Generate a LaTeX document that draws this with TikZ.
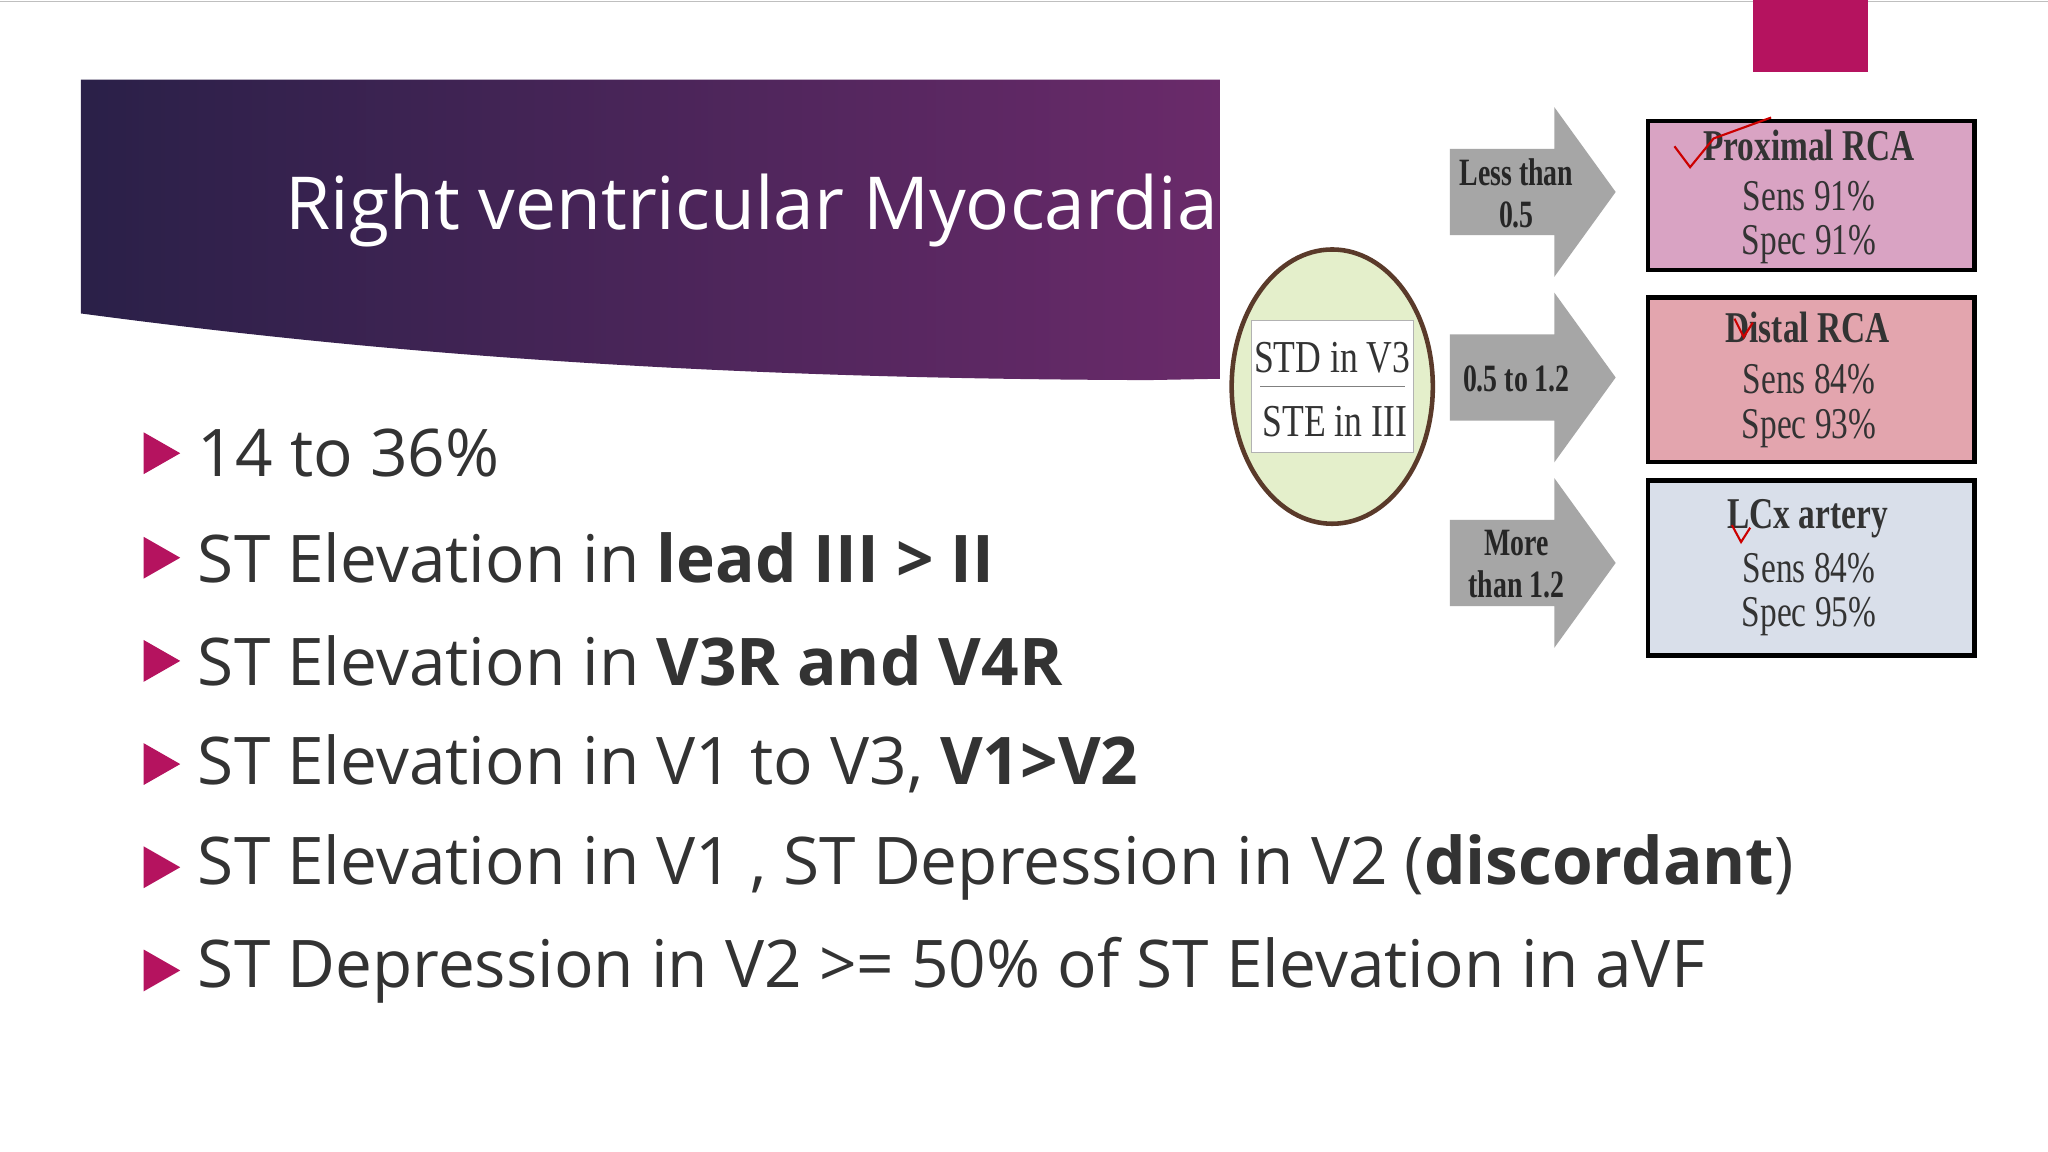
\documentclass[tikz,border=0pt]{standalone}
\usepackage{fontspec}
\setmainfont{Open Sans}
\newfontfamily\diag{Liberation Serif}
\usetikzlibrary{shapes.arrows}
\definecolor{mag}{HTML}{B5135F}
\definecolor{txt}{HTML}{333333}
\definecolor{bannerL}{HTML}{2A2048}
\definecolor{bannerR}{HTML}{6A2A6A}
\definecolor{arrowgray}{HTML}{A6A6A6}
\definecolor{pinkA}{HTML}{D9A3C3}
\definecolor{pinkB}{HTML}{E3A5AE}
\definecolor{blueC}{HTML}{D9DFEA}
\definecolor{circfill}{HTML}{E4EFCB}
\definecolor{circline}{HTML}{5A3A2A}
\tikzset{
 bullet/.style={anchor=west,text=txt,font=\fontsize{18.7}{22}\selectfont,inner sep=0pt},
 tri/.style={fill=mag,draw=none},
 result/.style={draw=black,line width=1.3pt,minimum width=250*0.013061cm,anchor=north west,inner sep=0pt},
 rtext/.style={font=\diag\fontsize{12.5}{14}\selectfont,text=black!80,align=center},
 atext/.style={font=\diag\bfseries\fontsize{11}{13}\selectfont,text=black!85,align=center},
 blk/.style={fill=arrowgray,draw=none},
 chk/.style={draw=red!80!black,line width=0.6pt}
}
\begin{document}
\begin{tikzpicture}[x=0.013061cm,y=-0.013061cm]
\useasboundingbox (0,0) rectangle (1568,882);
\fill[white] (0,0) rectangle (1568,882);
\draw[gray!50] (0,1) -- (1568,1);
\fill[mag] (1342,0) rectangle (1430,55);
% banner
\shade[left color=bannerL,right color=bannerR] (62,61) -- (934,61) -- (934,290) -- (880,291) .. controls (500,290) and (250,265) .. (62,240) -- cycle;
\node[anchor=base west,text=white,font=\fontsize{20.8}{24}\selectfont,inner sep=0pt] (title) at (218,176) {Right ventricular Myocardia};
% bullets
\foreach \y/\t [count=\i] in {347/{14 to 36\%},427/{ST Elevation in \textbf{lead III > II}},506/{ST Elevation in \textbf{V3R and V4R}},585/{ST Elevation in V1 to V3, \textbf{V1>V2}},664/{ST Elevation in V1 , ST Depression in V2 (\textbf{discordant})},743/{ST Depression in V2 >= 50\% of ST Elevation in aVF}}{
 \fill[tri] (110,\y-16) -- (138,\y) -- (110,\y+16) -- cycle;
 \node[bullet] (b\i) at (151,\y) {\t};
}
% circle
\draw[circline,line width=1.3pt,fill=circfill] (1020,296) ellipse [x radius=77,y radius=105];
\node[draw=gray!60,fill=white,minimum width=124*0.013061cm,minimum height=101*0.013061cm,inner sep=0pt] (std) at (1020,296) {};
\draw[gray] (965,296) -- (1076,296);
\node[rtext,font=\diag\fontsize{13}{15}\selectfont] (s1) at (1020,274) {\scalebox{0.78}[1]{STD in V3}};
\node[rtext,font=\diag\fontsize{13}{15}\selectfont] (s2) at (1022,323) {\scalebox{0.78}[1]{STE in III}};
% arrows
\foreach \c/\n in {147/a1,289/a2,431/a3}{
 \fill[blk] (1110,\c-33) -- (1190,\c-33) -- (1190,\c-65) -- (1237,\c) -- (1190,\c+65) -- (1190,\c+33) -- (1110,\c+33) -- cycle;
 \coordinate (\n) at (1160,\c);
}
\node[atext] (t1) at (1161,148) {\scalebox{0.72}[1]{Less than}\\[-1pt]\scalebox{0.72}[1]{0.5}};
\node[atext] (t2) at (1161,290) {\scalebox{0.72}[1]{0.5 to 1.2}};
\node[atext] (t3) at (1161,432) {\scalebox{0.72}[1]{More}\\[-1pt]\scalebox{0.72}[1]{than 1.2}};
% result boxes
\node[result,fill=pinkA,minimum height=114*0.013061cm] (r1) at (1260,91) {};
\node[result,fill=pinkB,minimum height=126*0.013061cm] (r2) at (1260,226) {};
\node[result,fill=blueC,minimum height=134*0.013061cm] (r3) at (1260,366) {};
\node[rtext] (p1) at (1385,111) {\scalebox{0.76}[1]{\textbf{Proximal RCA}}};
\node[rtext] (p2) at (1385,150) {\scalebox{0.76}[1]{Sens 91\%}};
\node[rtext] (p3) at (1385,187) {\scalebox{0.76}[1]{Spec 91\%}};
\node[rtext] (d1) at (1384,251) {\scalebox{0.76}[1]{\textbf{Distal RCA}}};
\node[rtext] (d2) at (1385,290) {\scalebox{0.76}[1]{Sens 84\%}};
\node[rtext] (d3) at (1385,328) {\scalebox{0.76}[1]{Spec 93\%}};
\node[rtext] (l1) at (1384,397) {\scalebox{0.76}[1]{\textbf{LCx artery}}};
\node[rtext] (l2) at (1385,435) {\scalebox{0.76}[1]{Sens 84\%}};
\node[rtext] (l3) at (1385,472) {\scalebox{0.76}[1]{Spec 95\%}};
% red ticks
\draw[chk] (1282,112) -- (1294,128) -- (1312,106) -- (1356,90);
\draw[chk] (1328,244) -- (1335,258) -- (1342,247);
\draw[chk] (1326,402) -- (1333,415) -- (1340,404);
\end{tikzpicture}
\end{document}
